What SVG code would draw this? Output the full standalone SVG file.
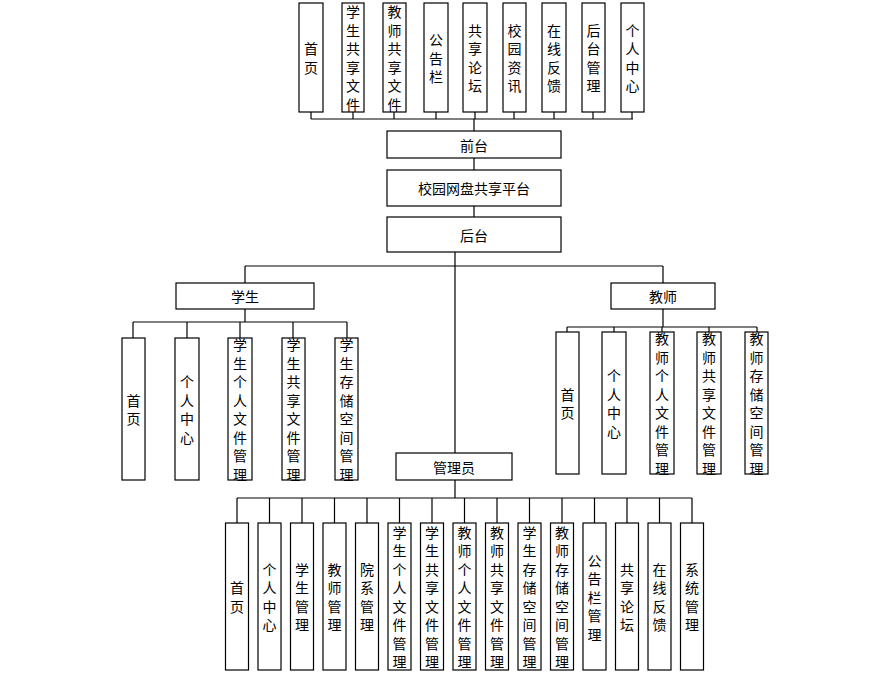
<svg xmlns="http://www.w3.org/2000/svg" width="885" height="681" viewBox="0 0 885 681">
<style>
rect{fill:#fff;stroke:#000;stroke-width:1.2}
text{font-family:"Noto Sans CJK SC","Noto Sans CJK TC",sans-serif;font-size:14px;fill:#000;text-anchor:middle;dominant-baseline:central}
#connectors path{fill:none;stroke:#000;stroke-width:1.2}
</style>
<rect x="0" y="0" width="885" height="681" style="fill:#fff;stroke:none"/>
<g id="connectors">
<path d="M311 119H633M311 112V119M353 112V119M394 112V119M436 112V119M475 112V119M514 112V119M554 112V119M593 112V119M632 112V119M474 119V131M474 158V170M474 206V217"/>
<path d="M455 252V453M245 266H663M245 266V283M663 266V283"/>
<path d="M245 309V322M133 322H347M133 322V338M187 322V338M240 322V338M293 322V338M347 322V338"/>
<path d="M663 309V327M567 327H757M567 327V332M614 327V332M662 327V332M709 327V332M757 327V332"/>
<path d="M455 480V498M237 498H692M237 498V523M269.5 498V523M302 498V523M334.5 498V523M367 498V523M399.5 498V523M432 498V523M464.5 498V523M497 498V523M529.5 498V523M562 498V523M594.5 498V523M627 498V523M659.5 498V523M692 498V523"/>
</g>
<g id="front"><rect x="387" y="131" width="174" height="27"/><text x="474" y="144.5">前台</text></g>
<g id="platform"><rect x="387" y="170" width="174" height="36"/><text x="474" y="188">校园网盘共享平台</text></g>
<g id="back"><rect x="387" y="217" width="174" height="35"/><text x="474" y="234.5">后台</text></g>
<g id="student"><rect x="176" y="283" width="138" height="26"/><text x="245" y="296">学生</text></g>
<g id="teacher"><rect x="611" y="283" width="104" height="26"/><text x="663" y="296">教师</text></g>
<g id="admin"><rect x="396" y="453" width="116" height="27"/><text x="454" y="466.5">管理员</text></g>

<g id="f1"><rect x="299" y="3" width="24" height="109"/><text x="311" y="48.25">首<tspan x="311" dy="18.5">页</tspan></text></g>
<g id="f2"><rect x="342" y="3" width="22" height="109"/><text x="353" y="11.25">学<tspan x="353" dy="18.5">生</tspan><tspan x="353" dy="18.5">共</tspan><tspan x="353" dy="18.5">享</tspan><tspan x="353" dy="18.5">文</tspan><tspan x="353" dy="18.5">件</tspan></text></g>
<g id="f3"><rect x="383" y="3" width="23" height="109"/><text x="394.5" y="11.25">教<tspan x="394.5" dy="18.5">师</tspan><tspan x="394.5" dy="18.5">共</tspan><tspan x="394.5" dy="18.5">享</tspan><tspan x="394.5" dy="18.5">文</tspan><tspan x="394.5" dy="18.5">件</tspan></text></g>
<g id="f4"><rect x="424" y="3" width="24" height="109"/><text x="436" y="39">公<tspan x="436" dy="18.5">告</tspan><tspan x="436" dy="18.5">栏</tspan></text></g>
<g id="f5"><rect x="463" y="3" width="24" height="109"/><text x="475" y="29.75">共<tspan x="475" dy="18.5">享</tspan><tspan x="475" dy="18.5">论</tspan><tspan x="475" dy="18.5">坛</tspan></text></g>
<g id="f6"><rect x="503" y="3" width="23" height="109"/><text x="514.5" y="29.75">校<tspan x="514.5" dy="18.5">园</tspan><tspan x="514.5" dy="18.5">资</tspan><tspan x="514.5" dy="18.5">讯</tspan></text></g>
<g id="f7"><rect x="542" y="3" width="24" height="109"/><text x="554" y="29.75">在<tspan x="554" dy="18.5">线</tspan><tspan x="554" dy="18.5">反</tspan><tspan x="554" dy="18.5">馈</tspan></text></g>
<g id="f8"><rect x="582" y="3" width="23" height="109"/><text x="593.5" y="29.75">后<tspan x="593.5" dy="18.5">台</tspan><tspan x="593.5" dy="18.5">管</tspan><tspan x="593.5" dy="18.5">理</tspan></text></g>
<g id="f9"><rect x="621" y="3" width="23" height="109"/><text x="632.5" y="29.75">个<tspan x="632.5" dy="18.5">人</tspan><tspan x="632.5" dy="18.5">中</tspan><tspan x="632.5" dy="18.5">心</tspan></text></g>

<g id="s1"><rect x="122" y="338" width="23" height="142"/><text x="133.5" y="399.75">首<tspan x="133.5" dy="18.5">页</tspan></text></g>
<g id="s2"><rect x="175" y="338" width="24" height="142"/><text x="187" y="381.25">个<tspan x="187" dy="18.5">人</tspan><tspan x="187" dy="18.5">中</tspan><tspan x="187" dy="18.5">心</tspan></text></g>
<g id="s3"><rect x="228" y="338" width="24" height="142"/><text x="240" y="344.25">学<tspan x="240" dy="18.5">生</tspan><tspan x="240" dy="18.5">个</tspan><tspan x="240" dy="18.5">人</tspan><tspan x="240" dy="18.5">文</tspan><tspan x="240" dy="18.5">件</tspan><tspan x="240" dy="18.5">管</tspan><tspan x="240" dy="18.5">理</tspan></text></g>
<g id="s4"><rect x="282" y="338" width="23" height="142"/><text x="293.5" y="344.25">学<tspan x="293.5" dy="18.5">生</tspan><tspan x="293.5" dy="18.5">共</tspan><tspan x="293.5" dy="18.5">享</tspan><tspan x="293.5" dy="18.5">文</tspan><tspan x="293.5" dy="18.5">件</tspan><tspan x="293.5" dy="18.5">管</tspan><tspan x="293.5" dy="18.5">理</tspan></text></g>
<g id="s5"><rect x="335" y="338" width="23" height="142"/><text x="346.5" y="344.25">学<tspan x="346.5" dy="18.5">生</tspan><tspan x="346.5" dy="18.5">存</tspan><tspan x="346.5" dy="18.5">储</tspan><tspan x="346.5" dy="18.5">空</tspan><tspan x="346.5" dy="18.5">间</tspan><tspan x="346.5" dy="18.5">管</tspan><tspan x="346.5" dy="18.5">理</tspan></text></g>

<g id="t1"><rect x="556" y="332" width="23" height="142"/><text x="567.5" y="393.75">首<tspan x="567.5" dy="18.5">页</tspan></text></g>
<g id="t2"><rect x="602" y="332" width="24" height="142"/><text x="614" y="375.25">个<tspan x="614" dy="18.5">人</tspan><tspan x="614" dy="18.5">中</tspan><tspan x="614" dy="18.5">心</tspan></text></g>
<g id="t3"><rect x="650" y="332" width="24" height="142"/><text x="662" y="338.25">教<tspan x="662" dy="18.5">师</tspan><tspan x="662" dy="18.5">个</tspan><tspan x="662" dy="18.5">人</tspan><tspan x="662" dy="18.5">文</tspan><tspan x="662" dy="18.5">件</tspan><tspan x="662" dy="18.5">管</tspan><tspan x="662" dy="18.5">理</tspan></text></g>
<g id="t4"><rect x="697" y="332" width="24" height="142"/><text x="709" y="338.25">教<tspan x="709" dy="18.5">师</tspan><tspan x="709" dy="18.5">共</tspan><tspan x="709" dy="18.5">享</tspan><tspan x="709" dy="18.5">文</tspan><tspan x="709" dy="18.5">件</tspan><tspan x="709" dy="18.5">管</tspan><tspan x="709" dy="18.5">理</tspan></text></g>
<g id="t5"><rect x="745" y="332" width="23" height="142"/><text x="756.5" y="338.25">教<tspan x="756.5" dy="18.5">师</tspan><tspan x="756.5" dy="18.5">存</tspan><tspan x="756.5" dy="18.5">储</tspan><tspan x="756.5" dy="18.5">空</tspan><tspan x="756.5" dy="18.5">间</tspan><tspan x="756.5" dy="18.5">管</tspan><tspan x="756.5" dy="18.5">理</tspan></text></g>

<g id="a1"><rect x="225.5" y="523" width="23" height="147"/><text x="237" y="587.25">首<tspan x="237" dy="18.5">页</tspan></text></g>
<g id="a2"><rect x="258" y="523" width="23" height="147"/><text x="269.5" y="568.75">个<tspan x="269.5" dy="18.5">人</tspan><tspan x="269.5" dy="18.5">中</tspan><tspan x="269.5" dy="18.5">心</tspan></text></g>
<g id="a3"><rect x="290.5" y="523" width="23" height="147"/><text x="302" y="568.75">学<tspan x="302" dy="18.5">生</tspan><tspan x="302" dy="18.5">管</tspan><tspan x="302" dy="18.5">理</tspan></text></g>
<g id="a4"><rect x="323" y="523" width="23" height="147"/><text x="334.5" y="568.75">教<tspan x="334.5" dy="18.5">师</tspan><tspan x="334.5" dy="18.5">管</tspan><tspan x="334.5" dy="18.5">理</tspan></text></g>
<g id="a5"><rect x="355.5" y="523" width="23" height="147"/><text x="367" y="568.75">院<tspan x="367" dy="18.5">系</tspan><tspan x="367" dy="18.5">管</tspan><tspan x="367" dy="18.5">理</tspan></text></g>
<g id="a6"><rect x="388" y="523" width="23" height="147"/><text x="399.5" y="531.75">学<tspan x="399.5" dy="18.5">生</tspan><tspan x="399.5" dy="18.5">个</tspan><tspan x="399.5" dy="18.5">人</tspan><tspan x="399.5" dy="18.5">文</tspan><tspan x="399.5" dy="18.5">件</tspan><tspan x="399.5" dy="18.5">管</tspan><tspan x="399.5" dy="18.5">理</tspan></text></g>
<g id="a7"><rect x="420.5" y="523" width="23" height="147"/><text x="432" y="531.75">学<tspan x="432" dy="18.5">生</tspan><tspan x="432" dy="18.5">共</tspan><tspan x="432" dy="18.5">享</tspan><tspan x="432" dy="18.5">文</tspan><tspan x="432" dy="18.5">件</tspan><tspan x="432" dy="18.5">管</tspan><tspan x="432" dy="18.5">理</tspan></text></g>
<g id="a8"><rect x="453" y="523" width="23" height="147"/><text x="464.5" y="531.75">教<tspan x="464.5" dy="18.5">师</tspan><tspan x="464.5" dy="18.5">个</tspan><tspan x="464.5" dy="18.5">人</tspan><tspan x="464.5" dy="18.5">文</tspan><tspan x="464.5" dy="18.5">件</tspan><tspan x="464.5" dy="18.5">管</tspan><tspan x="464.5" dy="18.5">理</tspan></text></g>
<g id="a9"><rect x="485.5" y="523" width="23" height="147"/><text x="497" y="531.75">教<tspan x="497" dy="18.5">师</tspan><tspan x="497" dy="18.5">共</tspan><tspan x="497" dy="18.5">享</tspan><tspan x="497" dy="18.5">文</tspan><tspan x="497" dy="18.5">件</tspan><tspan x="497" dy="18.5">管</tspan><tspan x="497" dy="18.5">理</tspan></text></g>
<g id="a10"><rect x="518" y="523" width="23" height="147"/><text x="529.5" y="531.75">学<tspan x="529.5" dy="18.5">生</tspan><tspan x="529.5" dy="18.5">存</tspan><tspan x="529.5" dy="18.5">储</tspan><tspan x="529.5" dy="18.5">空</tspan><tspan x="529.5" dy="18.5">间</tspan><tspan x="529.5" dy="18.5">管</tspan><tspan x="529.5" dy="18.5">理</tspan></text></g>
<g id="a11"><rect x="550.5" y="523" width="23" height="147"/><text x="562" y="531.75">教<tspan x="562" dy="18.5">师</tspan><tspan x="562" dy="18.5">存</tspan><tspan x="562" dy="18.5">储</tspan><tspan x="562" dy="18.5">空</tspan><tspan x="562" dy="18.5">间</tspan><tspan x="562" dy="18.5">管</tspan><tspan x="562" dy="18.5">理</tspan></text></g>
<g id="a12"><rect x="583" y="523" width="23" height="147"/><text x="594.5" y="559.5">公<tspan x="594.5" dy="18.5">告</tspan><tspan x="594.5" dy="18.5">栏</tspan><tspan x="594.5" dy="18.5">管</tspan><tspan x="594.5" dy="18.5">理</tspan></text></g>
<g id="a13"><rect x="615.5" y="523" width="23" height="147"/><text x="627" y="568.75">共<tspan x="627" dy="18.5">享</tspan><tspan x="627" dy="18.5">论</tspan><tspan x="627" dy="18.5">坛</tspan></text></g>
<g id="a14"><rect x="648" y="523" width="23" height="147"/><text x="659.5" y="568.75">在<tspan x="659.5" dy="18.5">线</tspan><tspan x="659.5" dy="18.5">反</tspan><tspan x="659.5" dy="18.5">馈</tspan></text></g>
<g id="a15"><rect x="680.5" y="523" width="23" height="147"/><text x="692" y="568.75">系<tspan x="692" dy="18.5">统</tspan><tspan x="692" dy="18.5">管</tspan><tspan x="692" dy="18.5">理</tspan></text></g>
</svg>
